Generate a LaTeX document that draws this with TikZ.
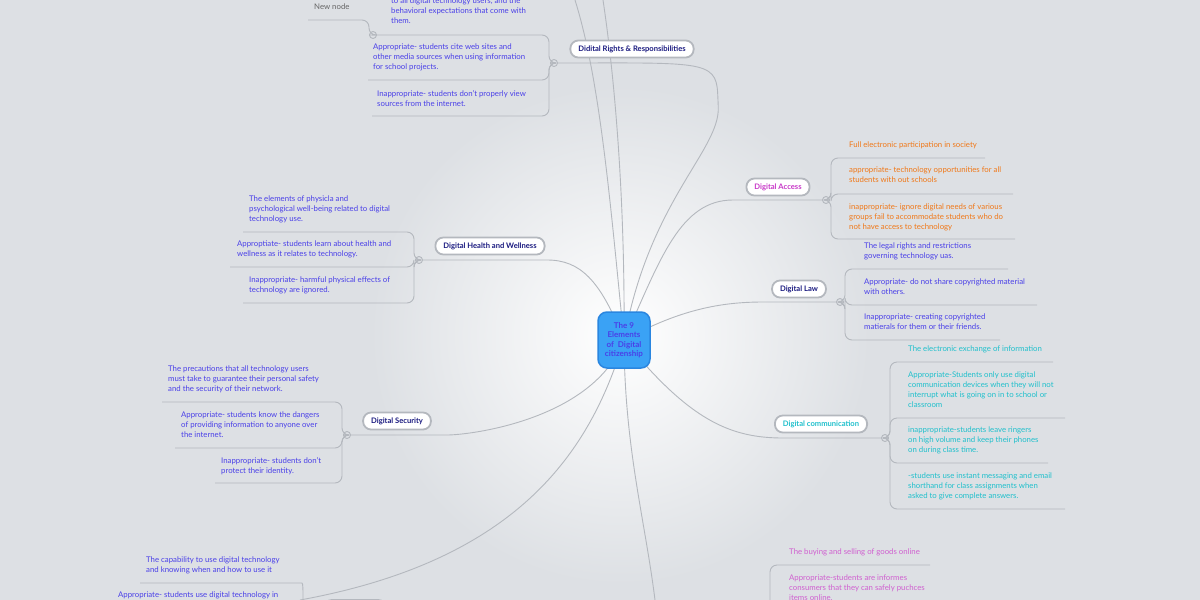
\documentclass[tikz,border=0pt]{standalone}
\usepackage{fontspec}
\setmainfont{Lato}
\definecolor{bg}{HTML}{DDE0E4}
\definecolor{ln}{HTML}{B4B8BE}
\definecolor{lb}{HTML}{4A40E8}
\definecolor{nv}{HTML}{1A1A80}
\definecolor{org}{HTML}{F07818}
\definecolor{mag}{HTML}{C838C8}
\definecolor{cy}{HTML}{20C0CC}
\definecolor{pk}{HTML}{D060D0}
\definecolor{cb}{HTML}{3AA2F5}
\definecolor{cbd}{HTML}{2A86E0}
\tikzset{
 br/.style={draw=ln,line width=0.9pt,rounded corners=7},
 topic/.style={draw=ln,line width=1.8pt,fill=white,rounded corners=8,inner xsep=8pt,inner ysep=5pt,font=\fontsize{7.6}{9}\selectfont\bfseries},
 leaf/.style={anchor=north west,align=left,inner sep=0pt,font=\fontsize{7.8}{10}\selectfont},
 dot/.style={circle,draw=ln,fill=bg,line width=0.9pt,minimum size=7pt,inner sep=0pt}
}
\begin{document}
\begin{tikzpicture}[x=1pt,y=-1pt]
\useasboundingbox (0,0) rectangle (1200,600);
\clip (0,0) rectangle (1200,600);
\fill[bg] (0,0) rectangle (1200,600);
\shade[inner color=white,outer color=bg] (620,335) circle (250);
% connector dots
\node[dot] (dR) at (554,63) {};
\node[dot] (dR1) at (373,35) {};
\node[dot] (dA) at (826,200) {};
\node[dot] (dL) at (840,302) {};
\node[dot] (dC) at (885,438) {};
\node[dot] (dH) at (419,260) {};
\node[dot] (dS) at (347,435) {};
\coordinate (top1) at (575,0); \coordinate (top2) at (603,0);
\coordinate (bl) at (300,600); \coordinate (bm) at (655,600);
\node[draw=none] (c) at (624,340) {};
% main branches
\draw[br] (c) .. controls (610,200) and (600,80) .. (top1);
\draw[br] (c) .. controls (625,200) and (615,80) .. (top2);
\draw[br] (c) .. controls (650,200) and (720,150) .. (718,100) .. controls (716,60) and (700,63) .. (dR);
\draw[br] (c) .. controls (660,260) and (680,200) .. (740,200) -- (dA);
\draw[br] (c) .. controls (680,310) and (720,302) .. (770,302) -- (dL);
\draw[br] (c) .. controls (690,420) and (730,438) .. (790,438) -- (dC);
\draw[br] (c) .. controls (600,280) and (580,260) .. (540,260) -- (dH);
\draw[br] (c) .. controls (590,420) and (470,435) .. (440,435) -- (dS);
\draw[br] (c) .. controls (590,450) and (520,560) .. (bl);
\draw[br] (c) .. controls (625,450) and (645,520) .. (bm);
\draw[br] (dR1) -- ++(-4,0) |- (308,20);
% center node
\node[draw=cbd,fill=cb,rounded corners=9,line width=1.5pt,minimum width=52pt,minimum height=56pt,align=center,text=lb,font=\fontsize{8}{9.5}\selectfont\bfseries] (center) at (624,340) {The 9\\Elements\\of \ Digital\\citizenship};
% topics
\node[topic,text=nv] (tR) at (632,49) {Didital Rights \& Responsibilities};
\node[topic,text=mag] (tA) at (778,187) {Digital Access};
\node[topic,text=nv] (tL) at (799,289) {Digital Law};
\node[topic,text=cy] (tC) at (821,424) {Digital communication};
\node[topic,text=nv] (tH) at (490,246) {Digital Health and Wellness};
\node[topic,text=nv] (tS) at (397,421) {Digital Security};
\node[topic,minimum width=62pt,minimum height=18pt] (tB) at (355,609) {};
% Rights leaves
\node[leaf,text=lb] (r1) at (391,-2) {to all digital technology users, and the\\behavioral expectations that come with\\them.};
\node[leaf,text=lb] (r2) at (373,44) {Appropriate- students cite web sites and\\other media sources when using information\\for school projects.};
\node[leaf,text=lb] (r3) at (377,90) {Inappropriate- students don't properly view\\sources from the internet.};
\node[leaf,text=gray!80!black] (r0) at (314,4) {New node};
\draw[br] (dR) -- ++(-5,0) |- (372,35);
\draw[br] (dR) -- ++(-5,0) |- (368,80);
\draw[br] (dR) -- ++(-5,0) |- (372,116);
% Access leaves
\node[leaf,text=org] (a1) at (849,142) {Full electronic participation in society};
\node[leaf,text=org] (a2) at (849,167) {appropriate- technology opportunities for all\\students with out schools};
\node[leaf,text=org] (a3) at (849,204) {inappropriate- ignore digital needs of various\\groups fail to accommodate students who do\\not have access to technology};
\draw[br] (dA) -- ++(5,0) |- (985,158);
\draw[br] (dA) -- ++(5,0) |- (1013,194);
\draw[br] (dA) -- ++(5,0) |- (1015,239);
% Law leaves
\node[leaf,text=lb] (l1) at (864,243) {The legal rights and restrictions\\governing technology uas.};
\node[leaf,text=lb] (l2) at (864,279) {Appropriate- do not share copyrighted material\\with others.};
\node[leaf,text=lb] (l3) at (864,314) {Inappropriate- creating copyrighted\\matierals for them or their friends.};
\draw[br] (dL) -- ++(5,0) |- (1008,269);
\draw[br] (dL) -- ++(5,0) |- (1037,305);
\draw[br] (dL) -- ++(5,0) |- (1000,340);
% Communication leaves
\node[leaf,text=cy] (c1) at (908,346) {The electronic exchange of information};
\node[leaf,text=cy] (c2) at (908,372) {Appropriate-Students only use digital\\communication devices when they will not\\interrupt what is going on in to school or\\classroom};
\node[leaf,text=cy] (c3) at (908,427) {inappropriate-students leave ringers\\on high volume and keep their phones\\on during class time.};
\node[leaf,text=cy] (c4) at (908,473) {-students use instant messaging and email\\shorthand for class assignments when\\asked to give complete answers.};
\draw[br] (dC) -- ++(5,0) |- (1053,362);
\draw[br] (dC) -- ++(5,0) |- (1065,418);
\draw[br] (dC) -- ++(5,0) |- (1048,463);
\draw[br] (dC) -- ++(5,0) |- (1065,509);
% Health leaves
\node[leaf,text=lb] (h1) at (249,196) {The elements of physicla and\\psychological well-being related to digital\\technology use.};
\node[leaf,text=lb] (h2) at (237,241) {Approptiate- students learn about health and\\wellness as it relates to technology.};
\node[leaf,text=lb] (h3) at (249,277) {Inappropriate- harmful physical effects of\\technology are ignored.};
\draw[br] (dH) -- ++(-5,0) |- (243,232);
\draw[br] (dH) -- ++(-5,0) |- (230,267);
\draw[br] (dH) -- ++(-5,0) |- (243,303);
% Security leaves
\node[leaf,text=lb] (s1) at (168,366) {The precautions that all technology users\\must take to guarantee their personal safety\\and the security of their network.};
\node[leaf,text=lb] (s2) at (181,412) {Appropriate- students know the dangers\\of providing information to anyone over\\the internet.};
\node[leaf,text=lb] (s3) at (221,457) {Inappropriate- students don't\\protect their identity.};
\draw[br] (dS) -- ++(-5,0) |- (162,402);
\draw[br] (dS) -- ++(-5,0) |- (175,448);
\draw[br] (dS) -- ++(-5,0) |- (215,483);
% Bottom-left leaves
\node[leaf,text=lb] (b1) at (146,557) {The capability to use digital technology\\and knowing when and how to use it};
\node[leaf,text=lb] (b2) at (118,592) {Appropriate- students use digital technology in};
\draw[br] (140,583) -- (295,583) .. controls (303,583) and (303,590) .. (303,600);
% Commerce leaves
\node[leaf,text=pk] (m1) at (789,549) {The buying and selling of goods online};
\node[leaf,text=pk] (m2) at (789,575) {Appropriate-students are informes\\consumers that they can safely puchces\\items online.};
\draw[br] (770,600) |- (930,565);
\end{tikzpicture}
\end{document}
